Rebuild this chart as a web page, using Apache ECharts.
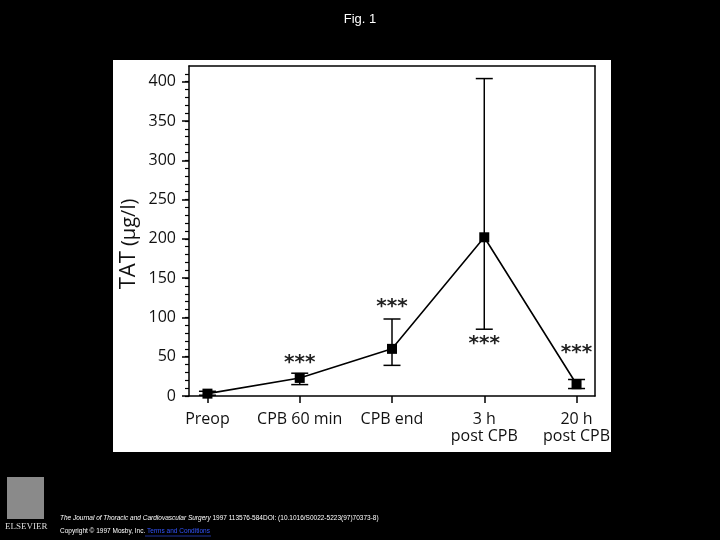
<!DOCTYPE html>
<html>
<head>
<meta charset="utf-8">
<script src="https://cdn.jsdelivr.net/npm/echarts@6/dist/echarts.min.js"></script>
<style>
html,body{margin:0;padding:0;background:#000;}
#c{width:720px;height:540px;}
</style>
</head>
<body>
<div id="c"></div>
<script>
// ---- data ----
var categories = ['Preop', 'CPB 60 min', 'CPB end', '3 h\npost CPB', '20 h\npost CPB'];
var meanValues = [3, 23, 60, 202, 15];
var lowerValues = [1, 14.5, 39, 85, 9.5];
var upperValues = [6, 29, 98, 404, 21];
var starLabels = ['***', '***', '***', '***'];
var starIndex = [1, 2, 3, 4];
var starValues = [42, 113, 66, 55];
var yTickLabels = [0, 50, 100, 150, 200, 250, 300, 350, 400];

var chart = echarts.init(document.getElementById('c'));

var lineData = meanValues.map(function (v, i) { return [i, v]; });
var errData = meanValues.map(function (v, i) { return [i, lowerValues[i], upperValues[i]]; });
var starData = starValues.map(function (v, i) { return [starIndex[i], v, starLabels[i]]; });
var minorTicks = [];
for (var t = 0; t <= 410; t += 10) minorTicks.push(t);
var catIdx = categories.map(function (c, i) { return i; });

var FONT = 'Open Sans';
var FOOT = '"Liberation Sans"';

var option = {
  backgroundColor: '#000',
  animation: false,
  title: {
    text: 'Fig. 1',
    left: 'center',
    top: 8,
    textStyle: { color: '#fff', fontSize: 13, fontWeight: 'normal', fontFamily: 'Liberation Sans' }
  },
  graphic: [
    { type: 'rect', left: 113, top: 60, shape: { width: 498, height: 392 }, style: { fill: '#fff' }, z: -10 },
    { type: 'rect', left: 7, top: 477, shape: { width: 37, height: 42 }, style: { fill: '#8a8a8a' }, z: 1 },
    { type: 'text', left: 5, top: 522, style: { text: 'ELSEVIER', fill: '#ddd', font: '9px "Liberation Serif"' } },
    { type: 'text', x: 129, y: 244, rotation: Math.PI / 2, style: {
        text: '{a|TAT} {b|(μg/l)}',
        align: 'center', verticalAlign: 'middle',
        fill: '#111', font: '20px "Open Sans"',
        rich: {
          a: { fontSize: 22, fontFamily: FONT, fill: '#111' },
          b: { fontSize: 20, fontFamily: FONT, fill: '#111' }
        }
      }, z: 5 },
    { type: 'text', left: 60, top: 515, style: {
        text: '{i|The Journal of Thoracic and Cardiovascular Surgery} 1997 113576-584DOI: (10.1016/S0022-5223(97)70373-8)',
        fill: '#fff', font: '6.5px ' + FOOT,
        rich: { i: { fontStyle: 'italic', fontSize: 6.5, fontFamily: FOOT, fill: '#fff' } }
      } },
    { type: 'text', left: 60, top: 528, style: {
        text: 'Copyright © 1997 Mosby, Inc. {u|Terms and Conditions}',
        fill: '#fff', font: '6.5px ' + FOOT,
        rich: { u: { fill: '#3355ff', fontSize: 6.5, fontFamily: FOOT } }
      } },
    { type: 'line', shape: { x1: 145, y1: 536, x2: 211, y2: 536 }, style: { stroke: '#3355ff', lineWidth: 0.6 } }
  ],
  grid: { left: 189, right: 125, top: 66, bottom: 144 },
  xAxis: [
    {
      type: 'value', min: -0.2, max: 4.2,
      splitLine: { show: false },
      axisLine: { show: true, onZero: false, lineStyle: { color: '#000', width: 1.5 } },
      axisTick: { show: true, customValues: catIdx, length: 7, inside: false, lineStyle: { color: '#000', width: 1.5 } },
      axisLabel: {
        show: true, customValues: catIdx, margin: 15,
        color: '#111', fontSize: 16, fontFamily: FONT, lineHeight: 17,
        formatter: function (v) { return categories[Math.round(v)]; }
      }
    },
    {
      type: 'value', min: -0.2, max: 4.2, position: 'top',
      splitLine: { show: false },
      axisLine: { show: true, onZero: false, lineStyle: { color: '#000', width: 1.5 } },
      axisTick: { show: false }, axisLabel: { show: false }
    }
  ],
  yAxis: [
    {
      type: 'value', min: 0, max: 420,
      splitLine: { show: false },
      axisLine: { show: true, onZero: false, lineStyle: { color: '#000', width: 1.5 } },
      axisTick: { show: true, customValues: minorTicks, length: 4, lineStyle: { color: '#000', width: 1.2 } },
      axisLabel: { show: true, customValues: yTickLabels, margin: 13, color: '#111', fontSize: 16, fontFamily: FONT }
    },
    {
      type: 'value', min: 0, max: 420, position: 'left',
      splitLine: { show: false },
      axisLine: { show: false, onZero: false },
      axisTick: { show: true, customValues: yTickLabels, length: 7, lineStyle: { color: '#000', width: 1.5 } },
      axisLabel: { show: false }
    },
    {
      type: 'value', min: 0, max: 420, position: 'right',
      splitLine: { show: false },
      axisLine: { show: true, onZero: false, lineStyle: { color: '#000', width: 1.5 } },
      axisTick: { show: false }, axisLabel: { show: false }
    }
  ],
  series: [
    {
      type: 'custom',
      name: 'err',
      xAxisIndex: 0, yAxisIndex: 0,
      data: errData,
      renderItem: function (params, api) {
        var x = api.value(0);
        var lo = api.coord([x, api.value(1)]);
        var hi = api.coord([x, api.value(2)]);
        var hw = 8.5;
        var st = { stroke: '#000', lineWidth: 1.5 };
        return {
          type: 'group',
          children: [
            { type: 'line', shape: { x1: lo[0], y1: lo[1], x2: hi[0], y2: hi[1] }, style: st },
            { type: 'line', shape: { x1: lo[0] - hw, y1: lo[1], x2: lo[0] + hw, y2: lo[1] }, style: st },
            { type: 'line', shape: { x1: hi[0] - hw, y1: hi[1], x2: hi[0] + hw, y2: hi[1] }, style: st }
          ]
        };
      },
      z: 2
    },
    {
      type: 'line',
      xAxisIndex: 0, yAxisIndex: 0,
      data: lineData,
      symbol: 'rect',
      symbolSize: 10,
      itemStyle: { color: '#000' },
      lineStyle: { color: '#000', width: 1.6 },
      z: 3
    },
    {
      type: 'custom',
      name: 'stars',
      xAxisIndex: 0, yAxisIndex: 0,
      data: starData,
      renderItem: function (params, api) {
        var p = api.coord([api.value(0), api.value(1)]);
        return {
          type: 'text',
          style: {
            text: starLabels[params.dataIndex],
            x: p[0], y: p[1],
            align: 'center', verticalAlign: 'middle',
            font: 'bold 20px "DejaVu Sans"',
            fill: '#222'
          }
        };
      },
      z: 4
    }
  ]
};
chart.setOption(option);
</script>
</body>
</html>
